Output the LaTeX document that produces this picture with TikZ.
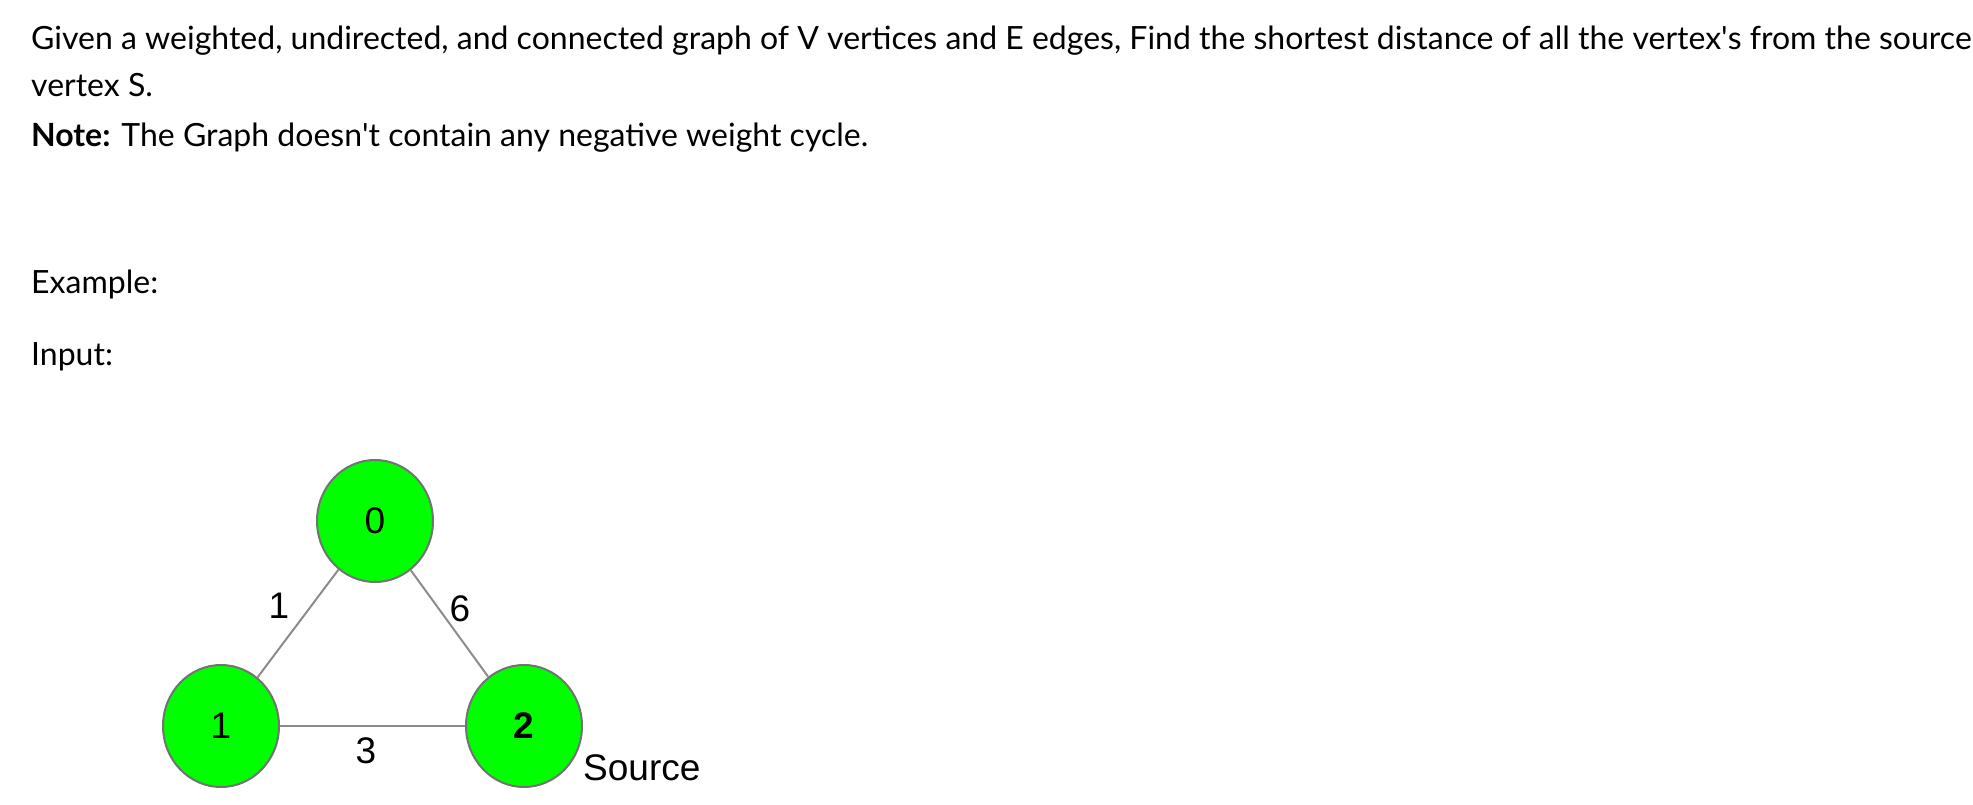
\documentclass[tikz,border=0pt]{standalone}
\usepackage{fontspec}
\setmainfont{Lato}
\newfontfamily\arialfont{Liberation Sans}
\usepackage{tikz}
\usetikzlibrary{shapes.geometric,positioning}

\definecolor{nodegreen}{RGB}{0,255,0}
\definecolor{rimgray}{RGB}{115,115,115}
\definecolor{edgegray}{RGB}{140,140,140}

\tikzset{
  vertex/.style={ellipse, draw=rimgray, line width=2pt, fill=nodegreen,
    minimum width=116pt, minimum height=122pt, inner sep=0pt,
    font=\arialfont\fontsize{37}{37}\selectfont},
  link/.style={draw=edgegray, line width=2pt},
  weight/.style={inner sep=0pt, font=\arialfont\fontsize{37}{37}\selectfont},
  prose/.style={anchor=base west, inner sep=0pt, font=\fontsize{32}{38}\selectfont}
}

\begin{document}
\begin{tikzpicture}[x=1pt,y=-1pt]
    \useasboundingbox (0,0) rectangle (1973,805);

    \node[prose] (line1) at (31,50) {Given a weighted, undirected, and connected graph of V vertices and E edges, Find the shortest distance of all the vertex\textquotesingle s from the source};
    \node[prose] (line2) at (31,97) {vertex S.};
    \node[prose] (note) at (31,147) {\textbf{Note:} The Graph doesn\textquotesingle t contain any negative weight cycle.};
    \node[prose] (example) at (31,293) {Example:};
    \node[prose] (input) at (31,365) {Input:};

    \node[vertex] (v0) at (375,521) {0};
    \node[vertex] (v1) at (221,726) {1};
    \node[vertex] (v2) at (524,726) {\textbf{2}};

    \draw[link] (v1) -- (v0);
    \draw[link] (v0) -- (v2);
    \draw[link] (v1) -- (v2);

    \node[weight] (w10) at (279,606) {1};
    \node[weight] (w02) at (460,609) {6};
    \node[weight] (w12) at (366,751) {3};
    \node[weight, anchor=base west] (src) at (583,780) {Source};
\end{tikzpicture}
\end{document}
